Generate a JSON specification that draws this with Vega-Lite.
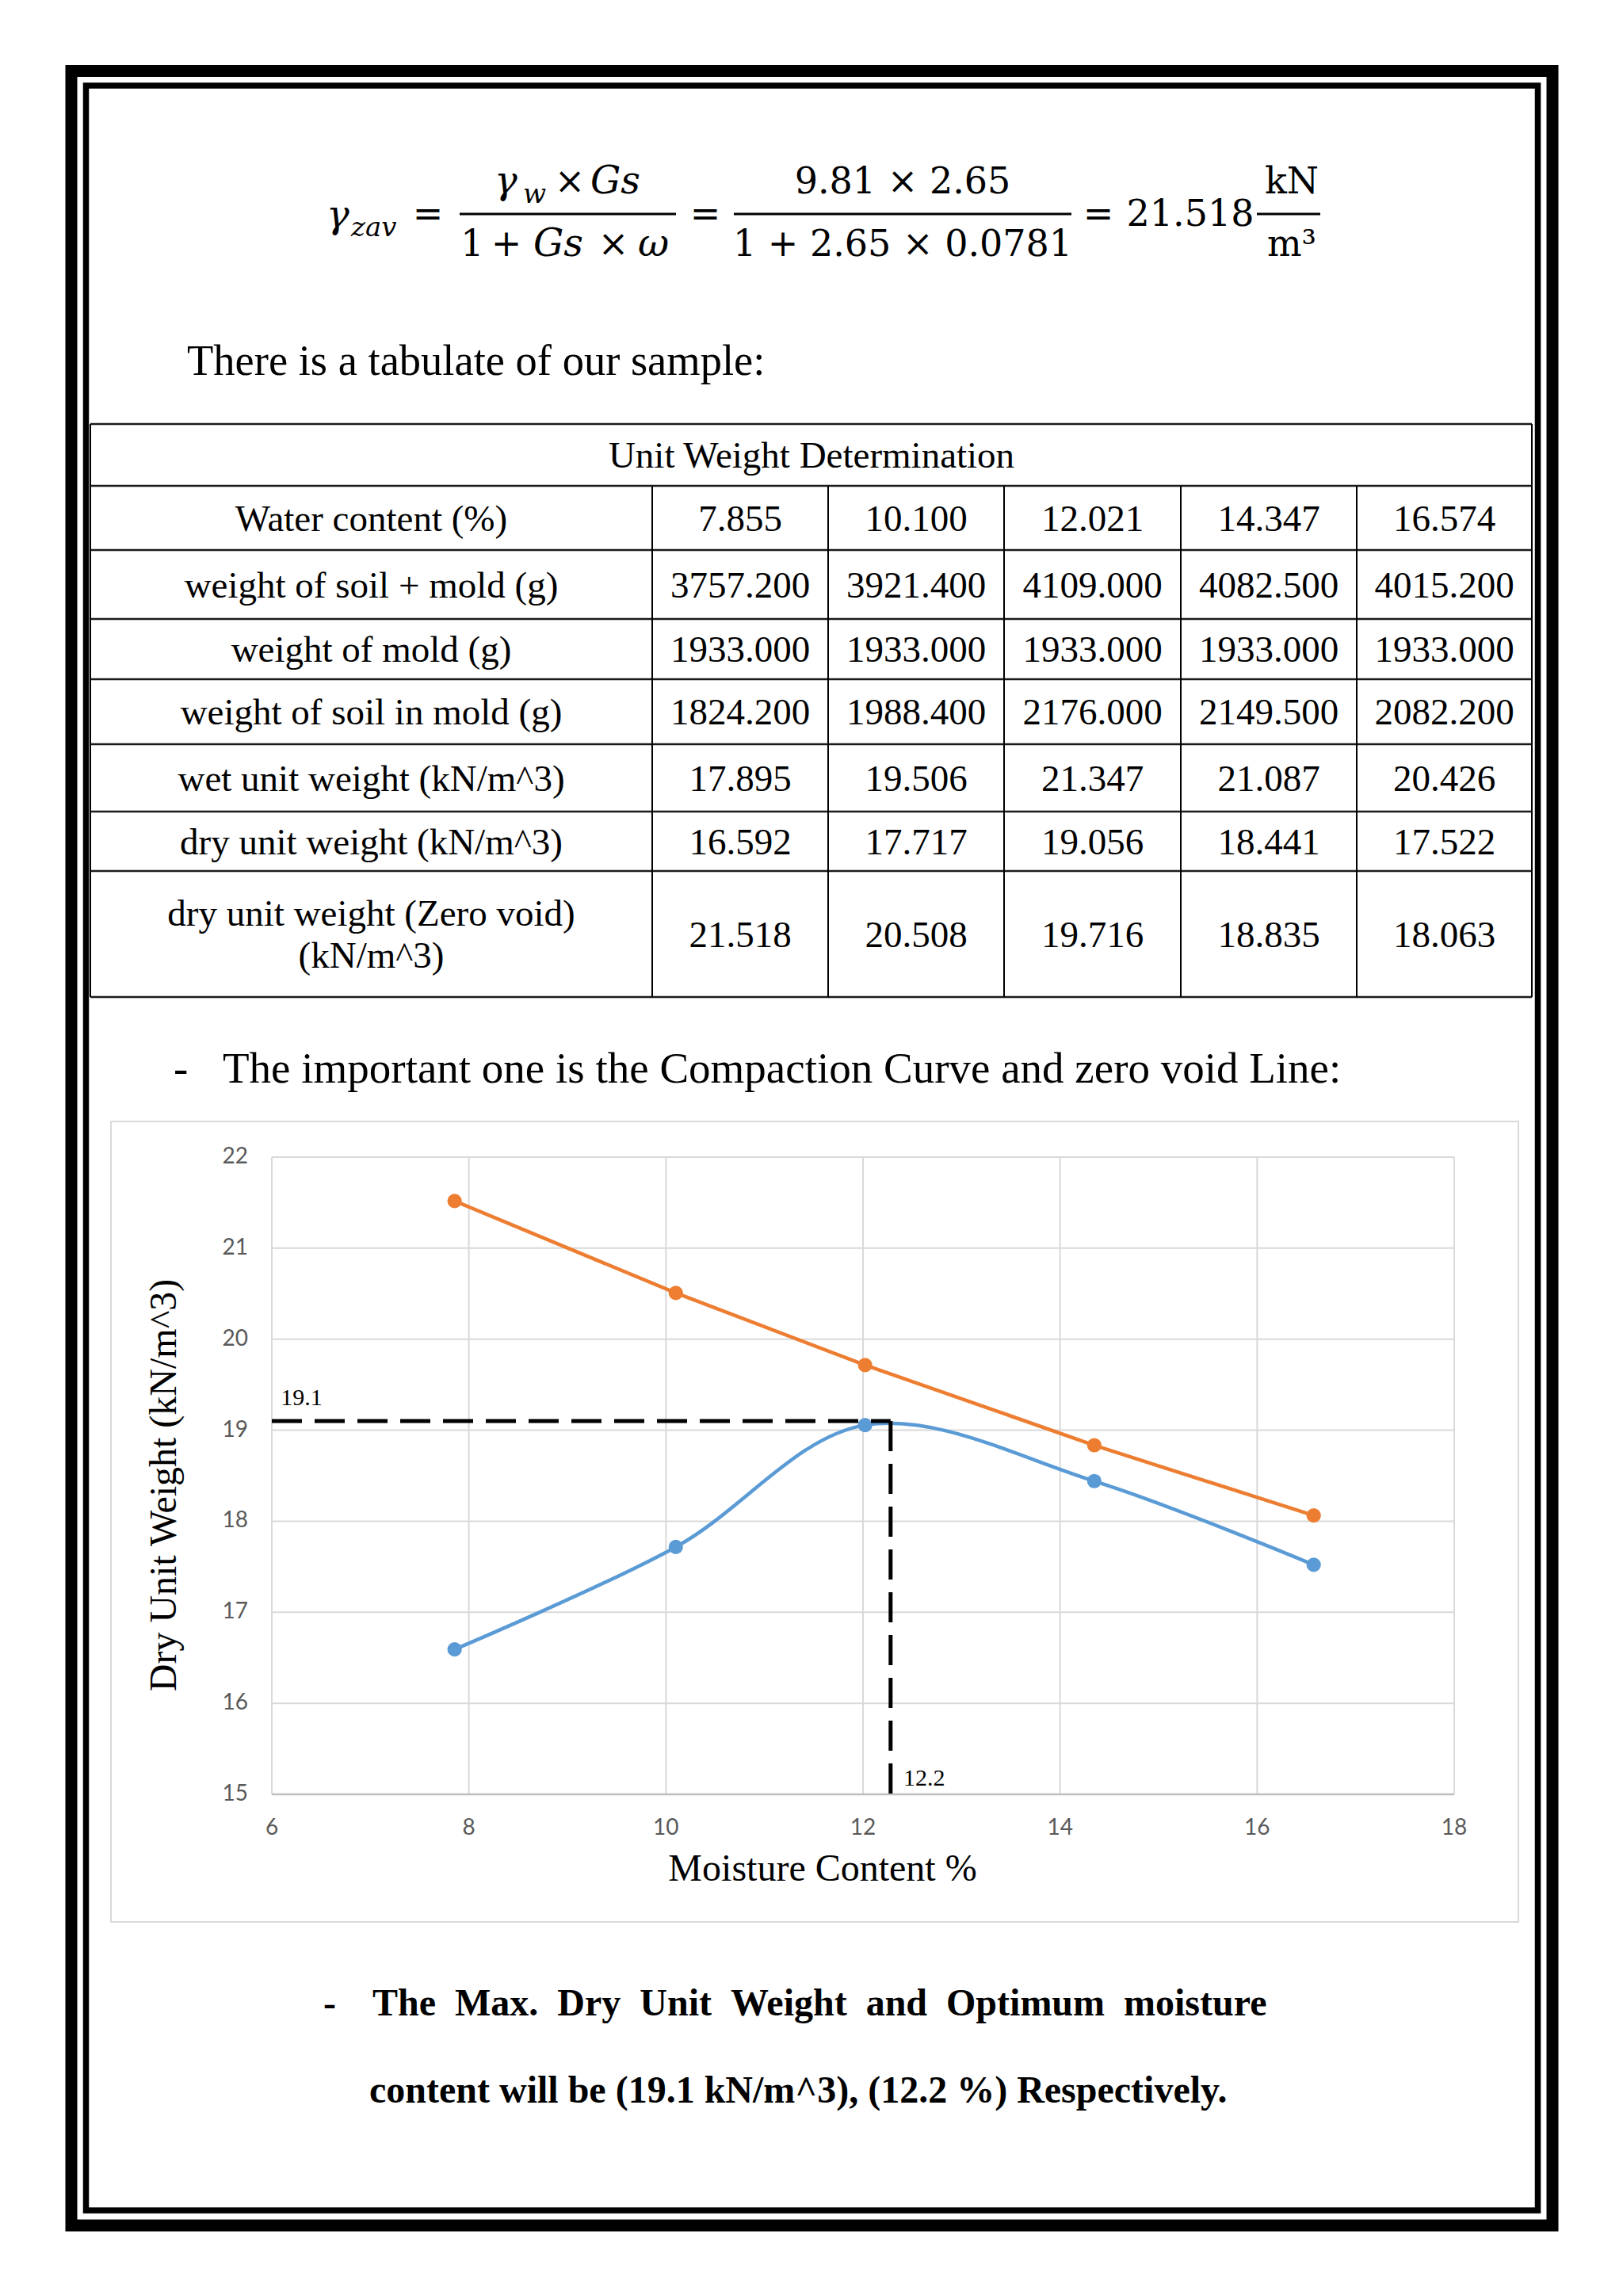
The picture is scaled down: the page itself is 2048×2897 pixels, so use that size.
{
  "$schema": "https://vega.github.io/schema/vega-lite/v6.json",
  "width": 2048,
  "height": 2897,
  "padding": 0,
  "autosize": {"type": "none"},
  "background": "#ffffff",
  "config": {"view": {"stroke": null}},
  "datasets": {
    "series": [
      {"moisture": 7.855, "unit_weight": 16.592, "series": "dry unit weight"},
      {"moisture": 10.1, "unit_weight": 17.717, "series": "dry unit weight"},
      {"moisture": 12.021, "unit_weight": 19.056, "series": "dry unit weight"},
      {"moisture": 14.347, "unit_weight": 18.441, "series": "dry unit weight"},
      {"moisture": 16.574, "unit_weight": 17.522, "series": "dry unit weight"},
      {"moisture": 7.855, "unit_weight": 21.518, "series": "zero void"},
      {"moisture": 10.1, "unit_weight": 20.508, "series": "zero void"},
      {"moisture": 12.021, "unit_weight": 19.716, "series": "zero void"},
      {"moisture": 14.347, "unit_weight": 18.835, "series": "zero void"},
      {"moisture": 16.574, "unit_weight": 18.063, "series": "zero void"}
    ],
    "table": [
      {"row": 1, "col": 0, "text": "Water content (%)"},
      {"row": 1, "col": 1, "text": "7.855"},
      {"row": 1, "col": 2, "text": "10.100"},
      {"row": 1, "col": 3, "text": "12.021"},
      {"row": 1, "col": 4, "text": "14.347"},
      {"row": 1, "col": 5, "text": "16.574"},
      {"row": 2, "col": 0, "text": "weight of soil + mold (g)"},
      {"row": 2, "col": 1, "text": "3757.200"},
      {"row": 2, "col": 2, "text": "3921.400"},
      {"row": 2, "col": 3, "text": "4109.000"},
      {"row": 2, "col": 4, "text": "4082.500"},
      {"row": 2, "col": 5, "text": "4015.200"},
      {"row": 3, "col": 0, "text": "weight of mold (g)"},
      {"row": 3, "col": 1, "text": "1933.000"},
      {"row": 3, "col": 2, "text": "1933.000"},
      {"row": 3, "col": 3, "text": "1933.000"},
      {"row": 3, "col": 4, "text": "1933.000"},
      {"row": 3, "col": 5, "text": "1933.000"},
      {"row": 4, "col": 0, "text": "weight of soil in mold (g)"},
      {"row": 4, "col": 1, "text": "1824.200"},
      {"row": 4, "col": 2, "text": "1988.400"},
      {"row": 4, "col": 3, "text": "2176.000"},
      {"row": 4, "col": 4, "text": "2149.500"},
      {"row": 4, "col": 5, "text": "2082.200"},
      {"row": 5, "col": 0, "text": "wet unit weight (kN/m^3)"},
      {"row": 5, "col": 1, "text": "17.895"},
      {"row": 5, "col": 2, "text": "19.506"},
      {"row": 5, "col": 3, "text": "21.347"},
      {"row": 5, "col": 4, "text": "21.087"},
      {"row": 5, "col": 5, "text": "20.426"},
      {"row": 6, "col": 0, "text": "dry unit weight (kN/m^3)"},
      {"row": 6, "col": 1, "text": "16.592"},
      {"row": 6, "col": 2, "text": "17.717"},
      {"row": 6, "col": 3, "text": "19.056"},
      {"row": 6, "col": 4, "text": "18.441"},
      {"row": 6, "col": 5, "text": "17.522"},
      {"row": 7, "col": 0, "text": "dry unit weight (Zero void)\n(kN/m^3)"},
      {"row": 7, "col": 1, "text": "21.518"},
      {"row": 7, "col": 2, "text": "20.508"},
      {"row": 7, "col": 3, "text": "19.716"},
      {"row": 7, "col": 4, "text": "18.835"},
      {"row": 7, "col": 5, "text": "18.063"}
    ]
  },
  "resolve": {"scale": {"x": "independent", "y": "independent"}},
  "layer": [
    {
      "layer": [
        {
          "data": {"values": [{"px": 90, "px2": 1959, "py": 89.5, "py2": 2808}]},
          "mark": {"type": "rect", "fill": "transparent", "stroke": "#000000", "strokeWidth": 15},
          "encoding": {
            "x": {"field": "px", "type": "quantitative", "scale": {"domain": [0, 2048], "nice": false, "zero": false}, "axis": null},
            "x2": {"field": "px2"},
            "y": {"field": "py", "type": "quantitative", "scale": {"domain": [0, 2897], "nice": false, "zero": false, "reverse": true}, "axis": null},
            "y2": {"field": "py2"}
          }
        },
        {
          "data": {"values": [{"px": 108.5, "px2": 1940.5, "py": 108, "py2": 2789}]},
          "mark": {"type": "rect", "fill": "transparent", "stroke": "#000000", "strokeWidth": 7.5},
          "encoding": {
            "x": {"field": "px", "type": "quantitative", "scale": {"domain": [0, 2048], "nice": false, "zero": false}, "axis": null},
            "x2": {"field": "px2"},
            "y": {"field": "py", "type": "quantitative", "scale": {"domain": [0, 2897], "nice": false, "zero": false, "reverse": true}, "axis": null},
            "y2": {"field": "py2"}
          }
        },
        {
          "data": {"values": [{"px": 140, "px2": 1916, "py": 1415, "py2": 2425}]},
          "mark": {"type": "rect", "fill": "#ffffff", "stroke": "#d9d9d9", "strokeWidth": 2},
          "encoding": {
            "x": {"field": "px", "type": "quantitative", "scale": {"domain": [0, 2048], "nice": false, "zero": false}, "axis": null},
            "x2": {"field": "px2"},
            "y": {"field": "py", "type": "quantitative", "scale": {"domain": [0, 2897], "nice": false, "zero": false, "reverse": true}, "axis": null},
            "y2": {"field": "py2"}
          }
        },
        {
          "data": {"values": [
            {"px": 580, "px2": 853, "py": 270},
            {"px": 926, "px2": 1352, "py": 270},
            {"px": 1586, "px2": 1666, "py": 270}
          ]},
          "mark": {"type": "rule", "color": "#000000", "strokeWidth": 3},
          "encoding": {
            "x": {"field": "px", "type": "quantitative", "scale": {"domain": [0, 2048], "nice": false, "zero": false}, "axis": null},
            "x2": {"field": "px2"},
            "y": {"field": "py", "type": "quantitative", "scale": {"domain": [0, 2897], "nice": false, "zero": false, "reverse": true}, "axis": null}
          }
        },
        {
          "data": {"values": [
            {"px": 540, "py": 285, "t": "="},
            {"px": 719, "py": 244, "t": "×"},
            {"px": 596, "py": 323, "t": "1"},
            {"px": 639, "py": 323, "t": "+"},
            {"px": 774, "py": 323, "t": "×"},
            {"px": 890, "py": 285, "t": "="},
            {"px": 1139, "py": 244, "t": "9.81 × 2.65"},
            {"px": 1139, "py": 323, "t": "1 + 2.65 × 0.0781"},
            {"px": 1386, "py": 285, "t": "="},
            {"px": 1502, "py": 285, "t": "21.518"},
            {"px": 1630, "py": 244, "t": "kN"},
            {"px": 1630, "py": 323, "t": "m³"}
          ]},
          "mark": {"type": "text", "font": "DejaVu Serif", "fontSize": 46, "align": "center", "baseline": "alphabetic", "color": "#000000"},
          "encoding": {
            "x": {"field": "px", "type": "quantitative", "scale": {"domain": [0, 2048], "nice": false, "zero": false}, "axis": null},
            "y": {"field": "py", "type": "quantitative", "scale": {"domain": [0, 2897], "nice": false, "zero": false, "reverse": true}, "axis": null},
            "text": {"field": "t", "type": "nominal"}
          }
        },
        {
          "data": {"values": [
            {"px": 412, "py": 287, "t": "γ"},
            {"px": 624, "py": 244, "t": "γ"},
            {"px": 745, "py": 244, "t": "Gs"},
            {"px": 673, "py": 323, "t": "Gs"},
            {"px": 805, "py": 323, "t": "ω"}
          ]},
          "mark": {"type": "text", "font": "DejaVu Serif", "fontStyle": "italic", "fontSize": 48, "align": "left", "baseline": "alphabetic", "color": "#000000"},
          "encoding": {
            "x": {"field": "px", "type": "quantitative", "scale": {"domain": [0, 2048], "nice": false, "zero": false}, "axis": null},
            "y": {"field": "py", "type": "quantitative", "scale": {"domain": [0, 2897], "nice": false, "zero": false, "reverse": true}, "axis": null},
            "text": {"field": "t", "type": "nominal"}
          }
        },
        {
          "data": {"values": [
            {"px": 443, "py": 298, "t": "zav"},
            {"px": 660, "py": 256, "t": "w"}
          ]},
          "mark": {"type": "text", "font": "DejaVu Serif", "fontStyle": "italic", "fontSize": 34, "align": "left", "baseline": "alphabetic", "color": "#000000"},
          "encoding": {
            "x": {"field": "px", "type": "quantitative", "scale": {"domain": [0, 2048], "nice": false, "zero": false}, "axis": null},
            "y": {"field": "py", "type": "quantitative", "scale": {"domain": [0, 2897], "nice": false, "zero": false, "reverse": true}, "axis": null},
            "text": {"field": "t", "type": "nominal"}
          }
        },
        {
          "data": {"values": [
            {"px": 236, "py": 473, "t": "There is a tabulate of our sample:"}
          ]},
          "mark": {"type": "text", "font": "Liberation Serif", "fontSize": 54.5, "align": "left", "baseline": "alphabetic", "color": "#000000"},
          "encoding": {
            "x": {"field": "px", "type": "quantitative", "scale": {"domain": [0, 2048], "nice": false, "zero": false}, "axis": null},
            "y": {"field": "py", "type": "quantitative", "scale": {"domain": [0, 2897], "nice": false, "zero": false, "reverse": true}, "axis": null},
            "text": {"field": "t", "type": "nominal"}
          }
        },
        {
          "data": {"values": [
            {"px": 219, "py": 1366, "t": "-"},
            {"px": 281, "py": 1366, "t": "The important one is the Compaction Curve and zero void Line:"}
          ]},
          "mark": {"type": "text", "font": "Liberation Serif", "fontSize": 55, "align": "left", "baseline": "alphabetic", "color": "#000000"},
          "encoding": {
            "x": {"field": "px", "type": "quantitative", "scale": {"domain": [0, 2048], "nice": false, "zero": false}, "axis": null},
            "y": {"field": "py", "type": "quantitative", "scale": {"domain": [0, 2897], "nice": false, "zero": false, "reverse": true}, "axis": null},
            "text": {"field": "t", "type": "nominal"}
          }
        },
        {
          "data": {"values": [{"px": 1024, "py": 590, "t": "Unit Weight Determination"}]},
          "mark": {"type": "text", "font": "Liberation Serif", "fontSize": 47, "align": "center", "baseline": "alphabetic", "color": "#000000"},
          "encoding": {
            "x": {"field": "px", "type": "quantitative", "scale": {"domain": [0, 2048], "nice": false, "zero": false}, "axis": null},
            "y": {"field": "py", "type": "quantitative", "scale": {"domain": [0, 2897], "nice": false, "zero": false, "reverse": true}, "axis": null},
            "text": {"field": "t", "type": "nominal"}
          }
        },
        {
          "data": {"values": [
            {"px": 114, "px2": 1933, "py": 535},
            {"px": 114, "px2": 1933, "py": 613},
            {"px": 114, "px2": 1933, "py": 694},
            {"px": 114, "px2": 1933, "py": 781},
            {"px": 114, "px2": 1933, "py": 857},
            {"px": 114, "px2": 1933, "py": 939},
            {"px": 114, "px2": 1933, "py": 1024},
            {"px": 114, "px2": 1933, "py": 1099},
            {"px": 114, "px2": 1933, "py": 1258}
          ]},
          "mark": {"type": "rule", "color": "#1a1a1a", "strokeWidth": 2.5},
          "encoding": {
            "x": {"field": "px", "type": "quantitative", "scale": {"domain": [0, 2048], "nice": false, "zero": false}, "axis": null},
            "x2": {"field": "px2"},
            "y": {"field": "py", "type": "quantitative", "scale": {"domain": [0, 2897], "nice": false, "zero": false, "reverse": true}, "axis": null}
          }
        },
        {
          "data": {"values": [
            {"px": 114, "py": 535, "py2": 1258},
            {"px": 1933, "py": 535, "py2": 1258},
            {"px": 823, "py": 613, "py2": 1258},
            {"px": 1045, "py": 613, "py2": 1258},
            {"px": 1267, "py": 613, "py2": 1258},
            {"px": 1490, "py": 613, "py2": 1258},
            {"px": 1712, "py": 613, "py2": 1258}
          ]},
          "mark": {"type": "rule", "color": "#000000", "strokeWidth": 2},
          "encoding": {
            "x": {"field": "px", "type": "quantitative", "scale": {"domain": [0, 2048], "nice": false, "zero": false}, "axis": null},
            "y": {"field": "py", "type": "quantitative", "scale": {"domain": [0, 2897], "nice": false, "zero": false, "reverse": true}, "axis": null},
            "y2": {"field": "py2"}
          }
        },
        {
          "data": {"values": [{"px": 1038, "py": 2373, "t": "Moisture Content %"}]},
          "mark": {"type": "text", "font": "Liberation Serif", "fontSize": 48, "align": "center", "baseline": "alphabetic", "color": "#000000"},
          "encoding": {
            "x": {"field": "px", "type": "quantitative", "scale": {"domain": [0, 2048], "nice": false, "zero": false}, "axis": null},
            "y": {"field": "py", "type": "quantitative", "scale": {"domain": [0, 2897], "nice": false, "zero": false, "reverse": true}, "axis": null},
            "text": {"field": "t", "type": "nominal"}
          }
        },
        {
          "data": {"values": [{"px": 222, "py": 1874, "t": "Dry Unit Weight (kN/m^3)"}]},
          "mark": {"type": "text", "font": "Liberation Serif", "fontSize": 48, "align": "center", "baseline": "alphabetic", "angle": 270, "color": "#000000"},
          "encoding": {
            "x": {"field": "px", "type": "quantitative", "scale": {"domain": [0, 2048], "nice": false, "zero": false}, "axis": null},
            "y": {"field": "py", "type": "quantitative", "scale": {"domain": [0, 2897], "nice": false, "zero": false, "reverse": true}, "axis": null},
            "text": {"field": "t", "type": "nominal"}
          }
        },
        {
          "data": {"values": [
            {"px": 408, "py": 2543, "t": "-"},
            {"px": 470, "py": 2543, "t": "The \u00a0Max. \u00a0Dry \u00a0Unit \u00a0Weight \u00a0and \u00a0Optimum \u00a0moisture"},
            {"px": 466, "py": 2653, "t": "content will be (19.1 kN/m^3), (12.2 %) Respectively."}
          ]},
          "mark": {"type": "text", "font": "Liberation Serif", "fontSize": 48, "fontWeight": "bold", "align": "left", "baseline": "alphabetic", "color": "#000000"},
          "encoding": {
            "x": {"field": "px", "type": "quantitative", "scale": {"domain": [0, 2048], "nice": false, "zero": false}, "axis": null},
            "y": {"field": "py", "type": "quantitative", "scale": {"domain": [0, 2897], "nice": false, "zero": false, "reverse": true}, "axis": null},
            "text": {"field": "t", "type": "nominal"}
          }
        }
      ]
    },
    {
      "data": {"name": "table"},
      "layer": [
        {
          "transform": [{"filter": "!(datum.row == 7 && datum.col == 0)"}],
          "mark": {"type": "text", "font": "Liberation Serif", "fontSize": 47, "align": "center", "baseline": "middle", "dy": 2, "color": "#000000"},
          "encoding": {
            "x": {"field": "col", "type": "quantitative", "scale": {"domain": [0, 1, 2, 3, 4, 5], "range": [468.5, 934, 1156, 1378.5, 1601, 1822.5], "nice": false, "zero": false}, "axis": null},
            "y": {"field": "row", "type": "quantitative", "scale": {"domain": [1, 2, 3, 4, 5, 6, 7], "range": [653.5, 737.5, 819, 898, 981.5, 1061.5, 1178.5], "nice": false, "zero": false}, "axis": null},
            "text": {"field": "text", "type": "nominal"}
          }
        },
        {
          "transform": [{"filter": "datum.row == 7 && datum.col == 0"}],
          "mark": {"type": "text", "font": "Liberation Serif", "fontSize": 47, "align": "center", "baseline": "middle", "dy": -25, "lineBreak": "\n", "lineHeight": 53, "color": "#000000"},
          "encoding": {
            "x": {"field": "col", "type": "quantitative", "scale": {"domain": [0, 1, 2, 3, 4, 5], "range": [468.5, 934, 1156, 1378.5, 1601, 1822.5], "nice": false, "zero": false}, "axis": null},
            "y": {"field": "row", "type": "quantitative", "scale": {"domain": [1, 2, 3, 4, 5, 6, 7], "range": [653.5, 737.5, 819, 898, 981.5, 1061.5, 1178.5], "nice": false, "zero": false}, "axis": null},
            "text": {"field": "text", "type": "nominal"}
          }
        }
      ]
    },
    {
      "layer": [
        {
          "data": {"values": [{"moisture": 6}, {"moisture": 8}, {"moisture": 10}, {"moisture": 12}, {"moisture": 14}, {"moisture": 16}, {"moisture": 18}]},
          "mark": {"type": "rule", "color": "#d9d9d9", "strokeWidth": 2},
          "encoding": {
            "x": {"field": "moisture", "type": "quantitative", "scale": {"domain": [6, 18], "range": [343, 1835], "nice": false, "zero": false}, "axis": null},
            "y": {"datum": 15, "type": "quantitative", "scale": {"domain": [15, 22], "range": [2264, 1460], "nice": false, "zero": false}, "axis": null},
            "y2": {"datum": 22}
          }
        },
        {
          "data": {"values": [{"unit_weight": 15}, {"unit_weight": 16}, {"unit_weight": 17}, {"unit_weight": 18}, {"unit_weight": 19}, {"unit_weight": 20}, {"unit_weight": 21}, {"unit_weight": 22}]},
          "mark": {"type": "rule", "color": "#d9d9d9", "strokeWidth": 2},
          "encoding": {
            "x": {"datum": 6, "type": "quantitative", "scale": {"domain": [6, 18], "range": [343, 1835], "nice": false, "zero": false}, "axis": null},
            "x2": {"datum": 18},
            "y": {"field": "unit_weight", "type": "quantitative", "scale": {"domain": [15, 22], "range": [2264, 1460], "nice": false, "zero": false}, "axis": null}
          }
        },
        {
          "data": {"values": [{"unit_weight": 15}]},
          "mark": {"type": "rule", "color": "#bfbfbf", "strokeWidth": 2.5},
          "encoding": {
            "x": {"datum": 6, "type": "quantitative", "scale": {"domain": [6, 18], "range": [343, 1835], "nice": false, "zero": false}, "axis": null},
            "x2": {"datum": 18},
            "y": {"field": "unit_weight", "type": "quantitative", "scale": {"domain": [15, 22], "range": [2264, 1460], "nice": false, "zero": false}, "axis": null}
          }
        },
        {
          "data": {"values": [{"moisture": 6}, {"moisture": 8}, {"moisture": 10}, {"moisture": 12}, {"moisture": 14}, {"moisture": 16}, {"moisture": 18}]},
          "mark": {"type": "text", "font": "Lato", "fontSize": 28, "color": "#595959", "align": "center", "baseline": "middle", "dy": 43},
          "encoding": {
            "x": {"field": "moisture", "type": "quantitative", "scale": {"domain": [6, 18], "range": [343, 1835], "nice": false, "zero": false}, "axis": null},
            "y": {"datum": 15, "type": "quantitative", "scale": {"domain": [15, 22], "range": [2264, 1460], "nice": false, "zero": false}, "axis": null},
            "text": {"field": "moisture", "type": "quantitative", "format": "d"}
          }
        },
        {
          "data": {"values": [{"unit_weight": 15}, {"unit_weight": 16}, {"unit_weight": 17}, {"unit_weight": 18}, {"unit_weight": 19}, {"unit_weight": 20}, {"unit_weight": 21}, {"unit_weight": 22}]},
          "mark": {"type": "text", "font": "Lato", "fontSize": 28, "color": "#595959", "align": "right", "baseline": "middle", "dx": -30},
          "encoding": {
            "x": {"datum": 6, "type": "quantitative", "scale": {"domain": [6, 18], "range": [343, 1835], "nice": false, "zero": false}, "axis": null},
            "y": {"field": "unit_weight", "type": "quantitative", "scale": {"domain": [15, 22], "range": [2264, 1460], "nice": false, "zero": false}, "axis": null},
            "text": {"field": "unit_weight", "type": "quantitative", "format": "d"}
          }
        },
        {
          "data": {"name": "series"},
          "transform": [{"filter": {"field": "series", "equal": "zero void"}}],
          "mark": {"type": "line", "color": "#ED7D31", "strokeWidth": 4.5, "point": {"filled": true, "size": 330, "color": "#ED7D31"}},
          "encoding": {
            "x": {"field": "moisture", "type": "quantitative", "scale": {"domain": [6, 18], "range": [343, 1835], "nice": false, "zero": false}, "axis": null},
            "y": {"field": "unit_weight", "type": "quantitative", "scale": {"domain": [15, 22], "range": [2264, 1460], "nice": false, "zero": false}, "axis": null}
          }
        },
        {
          "data": {"name": "series"},
          "transform": [{"filter": {"field": "series", "equal": "dry unit weight"}}],
          "mark": {"type": "line", "color": "#5B9BD5", "strokeWidth": 4.5, "interpolate": "catmull-rom", "point": {"filled": true, "size": 330, "color": "#5B9BD5"}},
          "encoding": {
            "x": {"field": "moisture", "type": "quantitative", "scale": {"domain": [6, 18], "range": [343, 1835], "nice": false, "zero": false}, "axis": null},
            "y": {"field": "unit_weight", "type": "quantitative", "scale": {"domain": [15, 22], "range": [2264, 1460], "nice": false, "zero": false}, "axis": null}
          }
        },
        {
          "data": {"values": [
            {"m1": 6, "m2": 12.28, "u1": 19.1, "u2": 19.1},
            {"m1": 12.28, "m2": 12.28, "u1": 19.1, "u2": 14.95}
          ]},
          "mark": {"type": "rule", "color": "#000000", "strokeWidth": 5, "strokeDash": [38, 16]},
          "encoding": {
            "x": {"field": "m1", "type": "quantitative", "scale": {"domain": [6, 18], "range": [343, 1835], "nice": false, "zero": false}, "axis": null},
            "x2": {"field": "m2"},
            "y": {"field": "u1", "type": "quantitative", "scale": {"domain": [15, 22], "range": [2264, 1460], "nice": false, "zero": false}, "axis": null},
            "y2": {"field": "u2"}
          }
        },
        {
          "data": {"values": [
            {"moisture": 6.09, "unit_weight": 19.275, "label": "19.1"},
            {"moisture": 12.41, "unit_weight": 15.1, "label": "12.2"}
          ]},
          "mark": {"type": "text", "font": "Liberation Serif", "fontSize": 30, "align": "left", "baseline": "alphabetic", "color": "#000000"},
          "encoding": {
            "x": {"field": "moisture", "type": "quantitative", "scale": {"domain": [6, 18], "range": [343, 1835], "nice": false, "zero": false}, "axis": null},
            "y": {"field": "unit_weight", "type": "quantitative", "scale": {"domain": [15, 22], "range": [2264, 1460], "nice": false, "zero": false}, "axis": null},
            "text": {"field": "label", "type": "nominal"}
          }
        }
      ]
    }
  ]
}
